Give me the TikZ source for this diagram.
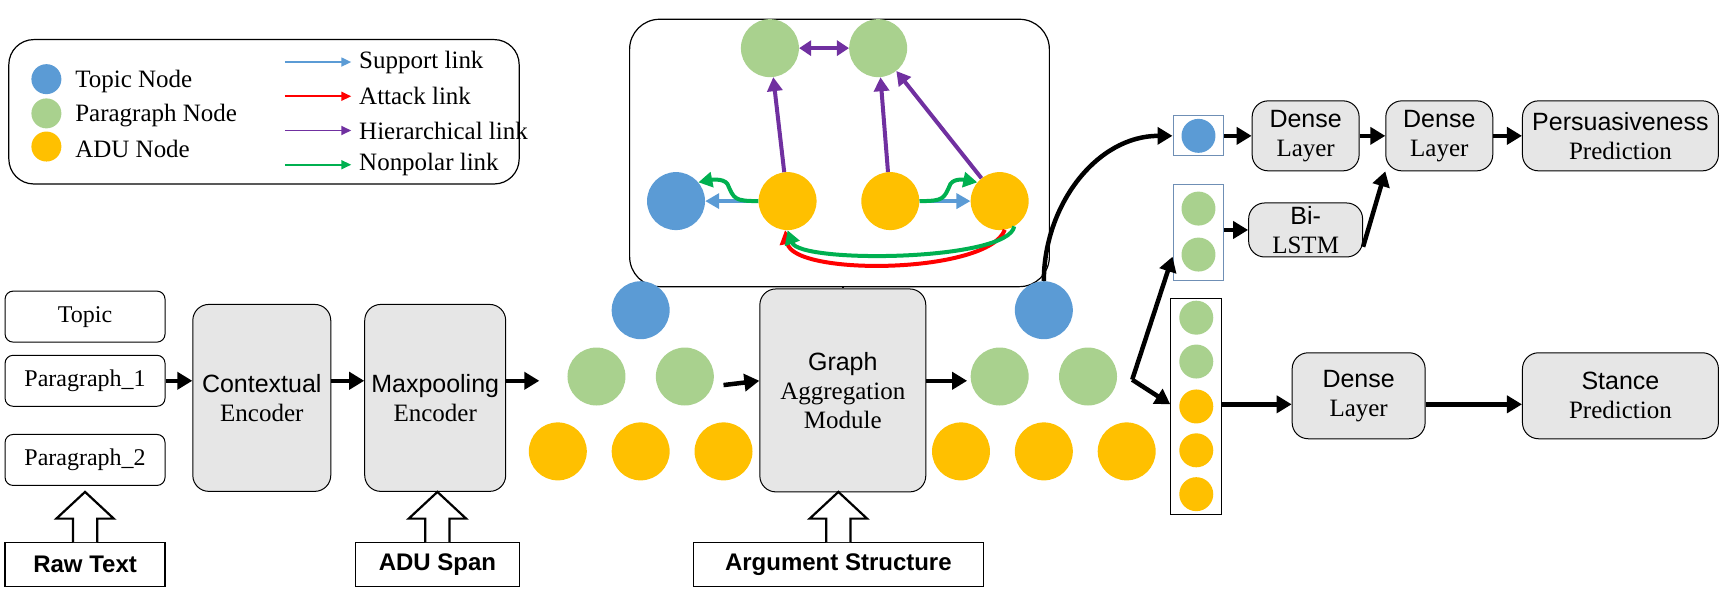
\documentclass[tikz,border=0pt]{standalone}
\usepackage{fontspec}
\setmainfont{Liberation Serif}
\setsansfont{Liberation Sans}
\usetikzlibrary{positioning}
\usetikzlibrary{arrows.meta}

\definecolor{topicblue}{HTML}{5B9BD5}
\definecolor{paragreen}{HTML}{A9D18E}
\definecolor{aduyellow}{HTML}{FFC000}
\definecolor{hierpurple}{HTML}{7030A0}
\definecolor{nonpolar}{HTML}{00B050}
\definecolor{boxgray}{HTML}{E6E6E6}
\definecolor{vecblue}{HTML}{6F8FB5}

\tikzset{
  dot/.style={circle, inner sep=0pt, minimum size=58pt},
  topic/.style={dot, fill=topicblue},
  para/.style={dot, fill=paragreen},
  adu/.style={dot, fill=aduyellow},
  smalldot/.style={circle, inner sep=0pt, minimum size=34pt},
  inbox/.style={draw, line width=1pt, rounded corners=8pt, minimum width=160pt, minimum height=51pt, font=\fontsize{24}{26}\selectfont},
  graybox/.style={draw, line width=1pt, fill=boxgray, rounded corners=16pt, align=center, font=\fontsize{25}{29}\selectfont},
  srcbox/.style={draw, line width=1.2pt, minimum height=44pt, font=\sffamily\bfseries\fontsize{24}{26}\selectfont},
  flow/.style={line width=4.5pt, -{Triangle[length=15pt,width=17pt]}},
  link/.style={line width=4pt, -{Triangle[length=14pt,width=15pt]}},
  legarrow/.style={line width=1.8pt, -{Triangle[length=10pt,width=9pt]}},
  legtext/.style={anchor=west, font=\fontsize{25}{27}\selectfont},
}

\newcommand\hollowup[1]{%
  \draw[line width=2.2pt, fill=white] (#1) ++(-11,0) -- ++(0,-22) -- ++(-15,0)
    -- ++(26,-25) -- ++(26,25) -- ++(-15,0) -- ++(0,22);}

\begin{document}
\begin{tikzpicture}[x=1.105pt, y=-1.07pt]
  \useasboundingbox (0,0) rectangle (1568,555);

  % legend
  \draw[line width=1.2pt, rounded corners=25pt] (8,37) rectangle (470,172);
  \node[dot, minimum size=30pt, fill=topicblue] (lt) at (42,74) {};
  \node[dot, minimum size=30pt, fill=paragreen] (lp) at (42,106) {};
  \node[dot, minimum size=30pt, fill=aduyellow] (la) at (42,137) {};
  \node[legtext] at (65,76) {Topic Node};
  \node[legtext] at (65,108) {Paragraph Node};
  \node[legtext] at (65,139) {ADU Node};
  \foreach \y/\c/\t in {58/topicblue/Support link, 90/red/Attack link,
      122/hierpurple/Hierarchical link, 154/nonpolar/Nonpolar link} {
    \coordinate (ls) at (258,\y);
    \coordinate (le) at (318,\y);
    \draw[legarrow, \c] (ls) -- (le);
    \node[legtext] at (322,\y) {\t};
  }

  % argument graph inset
  \draw[line width=1.2pt, rounded corners=30pt] (570,18) rectangle (950,268);
  \node[para] (g1) at (697,45) {};
  \node[para] (g2) at (795,45) {};
  \node[topic] (t0) at (612,188) {};
  \node[adu] (a1) at (713,188) {};
  \node[adu] (a2) at (806,188) {};
  \node[adu] (a3) at (905,188) {};
  \draw[line width=4pt, hierpurple, {Triangle[length=12pt,width=15pt]}-{Triangle[length=12pt,width=15pt]}] (g1) -- (g2);
  \draw[link, hierpurple] (a1) -- (g1);
  \draw[link, hierpurple] (a2) -- (g2);
  \draw[link, hierpurple] (a3) -- (g2);
  \draw[link, topicblue] (a1) -- (t0);
  \draw[link, topicblue] (a2) -- (a3);
  \draw[link, nonpolar] (a1.west) .. controls +(-22,0) and +(6,14) .. ++(-28,-16)
    .. controls +(-4,-6) and +(10,-2) .. (t0.40);
  \draw[link, nonpolar] (a2.east) .. controls +(22,0) and +(-6,14) .. ++(28,-16)
    .. controls +(4,-6) and +(-10,-2) .. (a3.140);
  \draw[link, red] (a3.-80) to[out=-110, in=-80, looseness=0.55] (a1.-95);
  \draw[link, nonpolar] (a3.-60) to[out=-100, in=-70, looseness=0.4] (a1.-90);

  % inputs
  \node[inbox] (topic) at (77,296) {Topic};
  \node[inbox] (p1) at (77,356) {Paragraph\_1};
  \node[inbox] (p2) at (77,430) {Paragraph\_2};
  \node[srcbox, minimum width=160pt] (raw) at (77,528) {Raw Text};
  \hollowup{raw.north}

  % encoders
  \node[graybox, minimum width=138pt, minimum height=187pt] (ctx) at (237,372) {\textsf{Contextual}\\Encoder};
  \node[graybox, minimum width=141pt, minimum height=187pt] (maxp) at (394,372) {\textsf{Maxpooling}\\Encoder};
  \node[srcbox, minimum width=164pt] (span) at (396,528) {ADU Span};
  \hollowup{span.north}
  \draw[flow] (p1.east) -- (ctx.west |- p1.east);
  \draw[flow] (ctx.east |- p1.east) -- (maxp.west |- p1.east);

  % node set before aggregation
  \node[topic] (bt) at (580,290) {};
  \node[para] (bp1) at (540,352) {};
  \node[para] (bp2) at (620,352) {};
  \node[adu] (ba1) at (505,422) {};
  \node[adu] (ba2) at (580,422) {};
  \node[adu] (ba3) at (655,422) {};
  \draw[flow] (maxp.east |- p1.east) -- ++(30,0);

  % graph aggregation
  \node[graybox, minimum width=166pt, minimum height=203pt] (gam) at (763,365) {\textsf{Graph}\\Aggregation\\Module};
  \node[srcbox, minimum width=290pt] (arg) at (759,528) {Argument Structure};
  \hollowup{arg.north}
  \draw[line width=1.5pt] (763,268) -- (gam.north);
  \coordinate (pre) at (655,360);
  \draw[flow] (pre) -- (gam.west |- p1.east);

  % node set after aggregation
  \node[topic] (at) at (945,290) {};
  \node[para] (ap1) at (905,352) {};
  \node[para] (ap2) at (985,352) {};
  \node[adu] (aa1) at (870,422) {};
  \node[adu] (aa2) at (945,422) {};
  \node[adu] (aa3) at (1020,422) {};
  \draw[flow] (gam.east |- p1.east) -- ++(37,0);

  % pooled vectors
  \node[draw=vecblue, line width=1pt, minimum width=51pt, minimum height=40pt] (vt) at (1085,127) {};
  \node[smalldot, fill=topicblue] at (vt) {};
  \node[draw=vecblue, line width=1pt, minimum width=51pt, minimum height=96pt] (vp) at (1085,217) {};
  \node[smalldot, fill=paragreen] at (1085,195) {};
  \node[smalldot, fill=paragreen] at (1085,238) {};
  \node[draw, line width=1pt, minimum width=51pt, minimum height=217pt] (va) at (1083,380) {};
  \foreach \y/\c in {297/paragreen, 338/paragreen, 380/aduyellow, 421/aduyellow, 462/aduyellow}
    \node[smalldot, fill=\c] at (1083,\y) {};

  \draw[flow] (at.north) to[out=90, in=180] (vt.west);
  \coordinate (split) at (1025,355);
  \draw[flow] (split) -- (vp.west |- 0,240);
  \draw[flow] (split) -- (va.west |- 0,378);

  % heads
  \node[graybox, minimum width=107pt, minimum height=70pt] (d1) at (1182,127) {\textsf{Dense}\\Layer};
  \node[graybox, minimum width=114pt, minimum height=54pt] (lstm) at (1182,215) {\textsf{Bi-}\\LSTM};
  \node[graybox, minimum width=107pt, minimum height=70pt] (d2) at (1303,127) {\textsf{Dense}\\Layer};
  \node[graybox, minimum width=196pt, minimum height=70pt] (pers) at (1467,127) {\textsf{Persuasiveness}\\Prediction};
  \node[graybox, minimum width=133pt, minimum height=86pt] (d3) at (1230,370) {\textsf{Dense}\\Layer};
  \node[graybox, minimum width=196pt, minimum height=86pt] (stance) at (1467,370) {\textsf{Stance}\\Prediction};

  \draw[flow] (vt.east) -- (d1.west);
  \draw[flow] (vp.east |- lstm.west) -- (lstm.west);
  \draw[flow] (d1.east) -- (d2.west);
  \draw[flow] (lstm.south east) ++(0,-10) -- (d2.south west);
  \draw[flow] (d2.east) -- (pers.west);
  \draw[flow] (va.east |- 0,378) -- (d3.west |- 0,378);
  \draw[flow] (d3.east |- 0,378) -- (stance.west |- 0,378);
\end{tikzpicture}
\end{document}
